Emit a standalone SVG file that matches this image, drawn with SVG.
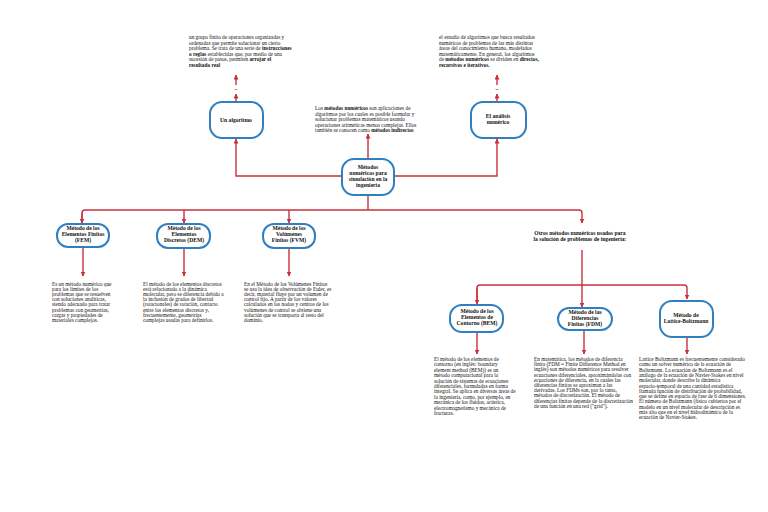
<svg xmlns="http://www.w3.org/2000/svg" width="768" height="512" viewBox="0 0 768 512">
<style>
.node rect{fill:#fff;stroke:#2f7fc1;stroke-width:2}
.lbl{font-family:"Liberation Serif","Times New Roman",serif;font-size:5.6px;font-weight:bold;fill:#111;text-anchor:middle}
.txt{font-family:"Liberation Serif","Times New Roman",serif;font-size:5.3px;fill:#111}
.txt .b{font-weight:bold}
.hd{font-family:"Liberation Serif","Times New Roman",serif;font-size:5.6px;font-weight:bold;fill:#111;text-anchor:middle}
.conn path{fill:none;stroke:#c8323c;stroke-width:1.4}
</style>
<defs>
<marker id="ah" viewBox="0 0 10 10" refX="9" refY="5" markerWidth="5" markerHeight="5" orient="auto" markerUnits="userSpaceOnUse">
<path d="M0,0 L10,5 L0,10 z" fill="#c8323c"/>
</marker>
</defs>
<rect width="768" height="512" fill="#fff"/>

<g class="conn" id="connectors">
<path d="M368,158 V134" marker-end="url(#ah)"/>
<path d="M342,176 H236 V139" marker-end="url(#ah)"/>
<path d="M394,176 H497 V139" marker-end="url(#ah)"/>
<path d="M236,102 V94" marker-end="url(#ah)"/>
<path d="M236,85 V75" marker-end="url(#ah)"/>
<path d="M497,102 V94" marker-end="url(#ah)"/>
<path d="M497,85 V75" marker-end="url(#ah)"/>
<path d="M368,195 V210"/>
<path d="M82,223 V213 Q82,210 85,210 H579 Q582,210 582,213 V223" marker-end="url(#ah)"/>
<path d="M82,213 V223" marker-end="url(#ah)"/>
<path d="M184,210 V223" marker-end="url(#ah)"/>
<path d="M289,210 V223" marker-end="url(#ah)"/>
<path d="M83,247 V276" marker-end="url(#ah)"/>
<path d="M184,248 V276" marker-end="url(#ah)"/>
<path d="M289,248 V276" marker-end="url(#ah)"/>
<path d="M582,250 V307" marker-end="url(#ah)"/>
<path d="M477,303 V288 Q477,285 480,285 H684 Q687,285 687,288 V299" marker-end="url(#ah)"/>
<path d="M477,288 V304" marker-end="url(#ah)"/>
<path d="M477,332 V354" marker-end="url(#ah)"/>
<path d="M584,330 V354" marker-end="url(#ah)"/>
<path d="M687,337 V354" marker-end="url(#ah)"/>
</g>
<text class="hd" x="236" y="91" font-size="7">–</text>
<text class="hd" x="497" y="91" font-size="7">–</text>

<g id="center">
<g class="node"><rect x="342" y="159" width="52" height="36" rx="12"/></g>
<text class="lbl"><tspan x="368" y="169">Métodos</tspan><tspan x="368" dy="6">numéricos para</tspan><tspan x="368" dy="6">simulación en la</tspan><tspan x="368" dy="6">ingeniería</tspan></text>
</g>

<g id="algoritmo">
<g class="node"><rect x="210" y="102" width="53" height="36" rx="12"/></g>
<text class="lbl" x="236" y="122">Un algoritmo</text>
</g>

<g id="analisis">
<g class="node"><rect x="471" y="102" width="55" height="36" rx="12"/></g>
<text class="lbl"><tspan x="498" y="118">El análisis</tspan><tspan x="498" dy="6">numérico</tspan></text>
</g>

<g id="txt-algoritmo">
<text class="txt"><tspan x="189" y="39">un grupo finito de operaciones organizadas y</tspan><tspan x="189" dy="5.6">ordenadas que permite solucionar un cierto</tspan><tspan x="189" dy="5.6">problema. Se trata de una serie de <tspan class="b">instrucciones</tspan></tspan><tspan x="189" dy="5.6"><tspan class="b">o reglas</tspan> establecidas que, por medio de una</tspan><tspan x="189" dy="5.6">sucesión de pasos, permiten <tspan class="b">arrojar el</tspan></tspan><tspan x="189" dy="5.6" class="b">resultado real</tspan></text>
</g>

<g id="txt-analisis">
<text class="txt"><tspan x="439" y="39">el estudio de algoritmos que busca resultados</tspan><tspan x="439" dy="5.6">numéricos de problemas de las más distintas</tspan><tspan x="439" dy="5.6">áreas del conocimiento humano, modelados</tspan><tspan x="439" dy="5.6">matemáticamente. En general, los algoritmos</tspan><tspan x="439" dy="5.6">de <tspan class="b">métodos numéricos</tspan> se dividen en <tspan class="b">directos,</tspan></tspan><tspan x="439" dy="5.6" class="b">recursivos e iterativos.</tspan></text>
</g>

<g id="txt-center">
<text class="txt"><tspan x="315" y="110">Los <tspan class="b">métodos numéricos</tspan> son aplicaciones de</tspan><tspan x="315" dy="5.5">algoritmos por los cuales es posible formular y</tspan><tspan x="315" dy="5.5">solucionar problemas matemáticos usando</tspan><tspan x="315" dy="5.5">operaciones aritméticas menos complejas. Ellos</tspan><tspan x="315" dy="5.5">también se conocen como <tspan class="b">métodos indirectos</tspan></tspan></text>
</g>

<g id="fem">
<g class="node"><rect x="57" y="224" width="52" height="23" rx="11"/></g>
<text class="lbl"><tspan x="83" y="230">Método de los</tspan><tspan x="83" dy="6">Elementos Finitos</tspan><tspan x="83" dy="6">(FEM)</tspan></text>
</g>
<g id="dem">
<g class="node"><rect x="157" y="224" width="53" height="24" rx="11"/></g>
<text class="lbl"><tspan x="184" y="230">Método de los</tspan><tspan x="184" dy="6">Elementos</tspan><tspan x="184" dy="6">Discretos (DEM)</tspan></text>
</g>
<g id="fvm">
<g class="node"><rect x="263" y="224" width="52" height="24" rx="11"/></g>
<text class="lbl"><tspan x="289" y="230">Método de los</tspan><tspan x="289" dy="6">Volúmenes</tspan><tspan x="289" dy="6">Finitos (FVM)</tspan></text>
</g>

<g id="txt-fem">
<text class="txt"><tspan x="52" y="286">Es un método numérico que</tspan><tspan x="52" dy="5.1">para los límites de los</tspan><tspan x="52" dy="5.1">problemas que se resuelven</tspan><tspan x="52" dy="5.1">con soluciones analíticas,</tspan><tspan x="52" dy="5.1">siendo adecuado para tratar</tspan><tspan x="52" dy="5.1">problemas con geometrías,</tspan><tspan x="52" dy="5.1">cargas y propiedades de</tspan><tspan x="52" dy="5.1">materiales complejos.</tspan></text>
</g>
<g id="txt-dem">
<text class="txt"><tspan x="143" y="286">El método de los elementos discretos</tspan><tspan x="143" dy="5.1">está relacionado a la dinámica</tspan><tspan x="143" dy="5.1">molecular, pero se diferencia debido a</tspan><tspan x="143" dy="5.1">la inclusión de grados de libertad</tspan><tspan x="143" dy="5.1">(rotacionales) de rotación, contacto</tspan><tspan x="143" dy="5.1">entre los elementos discretos y,</tspan><tspan x="143" dy="5.1">frecuentemente, geometrías</tspan><tspan x="143" dy="5.1">complejas usadas para definirlos.</tspan></text>
</g>
<g id="txt-fvm">
<text class="txt"><tspan x="244" y="286">En el Método de los Volúmenes Finitos</tspan><tspan x="244" dy="5.1">se usa la idea de observación de Euler, es</tspan><tspan x="244" dy="5.1">decir, material fluye por un volumen de</tspan><tspan x="244" dy="5.1">control fijo. A partir de los valores</tspan><tspan x="244" dy="5.1">calculados en los nodos y centros de los</tspan><tspan x="244" dy="5.1">volúmenes de control se obtiene una</tspan><tspan x="244" dy="5.1">solución que se transporta al resto del</tspan><tspan x="244" dy="5.1">dominio.</tspan></text>
</g>

<g id="otros">
<text class="hd"><tspan x="580" y="235">Otros métodos numéricos usados para</tspan><tspan x="580" dy="6">la solución de problemas de ingeniería:</tspan></text>
</g>

<g id="bem">
<g class="node"><rect x="450" y="305" width="53" height="27" rx="12"/></g>
<text class="lbl"><tspan x="477" y="313">Método de los</tspan><tspan x="477" dy="6">Elementos de</tspan><tspan x="477" dy="6">Contorno (BEM)</tspan></text>
</g>
<g id="fdm">
<g class="node"><rect x="558" y="308" width="54" height="22" rx="11"/></g>
<text class="lbl"><tspan x="585" y="314">Método de las</tspan><tspan x="585" dy="6">Diferencias</tspan><tspan x="585" dy="6">Finitas (FDM)</tspan></text>
</g>
<g id="lbm">
<g class="node"><rect x="660" y="301" width="53" height="36" rx="12"/></g>
<text class="lbl"><tspan x="686" y="317">Método de</tspan><tspan x="686" dy="6">Lattice-Boltzmann</tspan></text>
</g>

<g id="txt-bem">
<text class="txt"><tspan x="434" y="361">El método de los elementos de</tspan><tspan x="434" dy="5.4">contorno (en inglés: boundary</tspan><tspan x="434" dy="5.4">element method (BEM)) es un</tspan><tspan x="434" dy="5.4">método computacional para la</tspan><tspan x="434" dy="5.4">solución de sistemas de ecuaciones</tspan><tspan x="434" dy="5.4">diferenciales, formuladas en forma</tspan><tspan x="434" dy="5.4">integral. Se aplica en diversas áreas de</tspan><tspan x="434" dy="5.4">la ingeniería, como, por ejemplo, en</tspan><tspan x="434" dy="5.4">mecánica de los fluidos, acústica,</tspan><tspan x="434" dy="5.4">electromagnetismo y mecánica de</tspan><tspan x="434" dy="5.4">fracturas.</tspan></text>
</g>
<g id="txt-fdm">
<text class="txt"><tspan x="534" y="361">En matemática, los métodos de diferencia</tspan><tspan x="534" dy="5.2">finita (FDM = Finite Difference Method en</tspan><tspan x="534" dy="5.2">inglés) son métodos numéricos para resolver</tspan><tspan x="534" dy="5.2">ecuaciones diferenciales, aproximándolas con</tspan><tspan x="534" dy="5.2">ecuaciones de diferencia, en la cuales las</tspan><tspan x="534" dy="5.2">diferencias finitas se aproximan a las</tspan><tspan x="534" dy="5.2">derivadas. Los FDMs son, por lo tanto,</tspan><tspan x="534" dy="5.2">métodos de discretización. El método de</tspan><tspan x="534" dy="5.2">diferencias finitas depende de la discretización</tspan><tspan x="534" dy="5.2">de una función en una red ("grid").</tspan></text>
</g>
<g id="txt-lbm">
<text class="txt"><tspan x="639" y="361">Lattice Boltzmann es frecuentemente considerado</tspan><tspan x="639" dy="5.3">como un solver numérico de la ecuación de</tspan><tspan x="639" dy="5.3">Boltzmann. La ecuación de Boltzmann es el</tspan><tspan x="639" dy="5.3">análogo de la ecuación de Navier-Stokes en nivel</tspan><tspan x="639" dy="5.3">molecular, donde describe la dinámica</tspan><tspan x="639" dy="5.3">espacio-temporal de una cantidad estadística</tspan><tspan x="639" dy="5.3">llamada función de distribución de probabilidad,</tspan><tspan x="639" dy="5.3">que se define en espacio de fase de 6 dimensiones.</tspan><tspan x="639" dy="5.3">El número de Boltzmann (físico cubiertos por el</tspan><tspan x="639" dy="5.3">modelo en un nivel molecular de descripción es</tspan><tspan x="639" dy="5.3">más alto que en el nivel hidrodinámico de la</tspan><tspan x="639" dy="5.3">ecuación de Navier-Stokes.</tspan></text>
</g>
</svg>
